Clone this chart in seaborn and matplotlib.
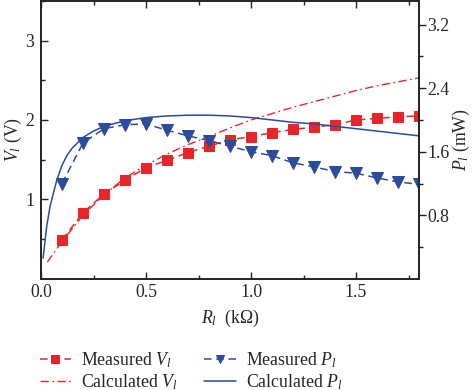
import numpy as np
import pandas as pd
import matplotlib
matplotlib.use("Agg")
import matplotlib.pyplot as plt
import seaborn as sns
from matplotlib.ticker import FixedLocator

# measured load resistance (kOhm)
r_meas = [0.1, 0.2, 0.3, 0.4, 0.5, 0.6, 0.7, 0.8, 0.9,
          1.0, 1.1, 1.2, 1.3, 1.4, 1.5, 1.6, 1.7, 1.8]
v_meas = [0.49, 0.83, 1.07, 1.24, 1.40, 1.49, 1.59, 1.67, 1.75,
          1.79, 1.84, 1.88, 1.91, 1.94, 2.00, 2.02, 2.04, 2.05]
p_meas = [1.20, 1.71, 1.89, 1.94, 1.95, 1.87, 1.80, 1.74, 1.67,
          1.60, 1.55, 1.46, 1.41, 1.35, 1.33, 1.27, 1.22, 1.19]

# calculated curves
r_calc_v = [0.03, 0.1, 0.2, 0.3, 0.4, 0.5, 0.6, 0.7, 0.8, 0.9,
            1.0, 1.1, 1.2, 1.3, 1.4, 1.5, 1.6, 1.7, 1.8]
v_calc = [0.21, 0.47, 0.80, 1.06, 1.27, 1.43, 1.57, 1.69, 1.79, 1.90,
          2.00, 2.08, 2.16, 2.23, 2.30, 2.37, 2.43, 2.48, 2.53]

r_calc_p = [0.01, 0.027, 0.043, 0.06, 0.075, 0.1, 0.125, 0.15, 0.2, 0.25, 0.3,
            0.4, 0.5, 0.6, 0.7, 0.8, 0.9, 1.0, 1.1, 1.2, 1.3, 1.4,
            1.5, 1.6, 1.7, 1.8]
p_calc = [0.26, 0.66, 0.91, 1.09, 1.24, 1.43, 1.56, 1.65, 1.78, 1.86, 1.92,
          1.99, 2.03, 2.05, 2.06, 2.06, 2.05, 2.03, 2.00, 1.97, 1.95, 1.92,
          1.89, 1.86, 1.83, 1.80]

red = "#e8262a"
blue = "#2b4c9c"

sns.set_style("ticks")
plt.rcParams["font.family"] = ["Liberation Serif", "DejaVu Serif"]
plt.rcParams["mathtext.fontset"] = "custom"
plt.rcParams["mathtext.rm"] = "Liberation Serif"
plt.rcParams["mathtext.it"] = "Liberation Serif:italic"
fs = 12.8

fig = plt.figure(figsize=(4.74, 3.90), dpi=100)
ax = fig.add_axes([0.0865, 0.285, 0.7975, 0.713])
ax2 = ax.twinx()

sns.lineplot(x=r_meas, y=v_meas, ax=ax, color=red, marker="s", markersize=7,
             markeredgecolor=red, linewidth=1.1, sort=False,
             label="Measured $V_l$")
ax.lines[-1].set_dashes([5, 3])
sns.lineplot(x=r_calc_v, y=v_calc, ax=ax, color=red, linewidth=1.0, sort=False,
             label="Calculated $V_l$")
ax.lines[-1].set_dashes([6, 2.5, 1.2, 2.5])

sns.lineplot(x=r_meas, y=p_meas, ax=ax2, color=blue, marker="v", markersize=8.5,
             markeredgecolor=blue, linewidth=1.1, sort=False,
             label="Measured $P_l$")
ax2.lines[-1].set_dashes([5, 3])
sns.lineplot(x=r_calc_p, y=p_calc, ax=ax2, color=blue, linewidth=1.1, sort=False,
             label="Calculated $P_l$")

h1, l1 = ax.get_legend_handles_labels()
h2, l2 = ax2.get_legend_handles_labels()
ax.get_legend().remove()
ax2.get_legend().remove()

ax.set_xlim(0, 1.8)
ax.set_ylim(0, 3.5)
ax2.set_ylim(0, 3.5)

ax.xaxis.set_major_locator(FixedLocator([0.0, 0.5, 1.0, 1.5]))
ax.xaxis.set_minor_locator(FixedLocator([0.25, 0.75, 1.25, 1.75]))
ax.yaxis.set_major_locator(FixedLocator([1, 2, 3]))
ax.yaxis.set_minor_locator(FixedLocator([0.5, 1.5, 2.5, 3.5]))
ax2.yaxis.set_major_locator(FixedLocator([0.8, 1.6, 2.4, 3.2]))
ax2.yaxis.set_minor_locator(FixedLocator([0.4, 1.2, 2.0, 2.8]))
ax.set_xticklabels(["0.0", "0.5", "1.0", "1.5"])
ax.set_yticklabels(["1", "2", "3"])
ax2.set_yticklabels(["0.8", "1.6", "2.4", "3.2"])

ax.tick_params(which="both", direction="in", top=True, right=False,
               labelsize=fs, color="#222222")
ax.tick_params(which="major", length=5, width=1)
ax.tick_params(which="minor", length=3, width=1)
ax.tick_params(axis="y", pad=5)
ax2.tick_params(which="both", direction="out", labelsize=fs, color="#222222", pad=1)
ax2.tick_params(which="major", length=5, width=1)
ax2.tick_params(which="minor", length=3, width=1)

for a in (ax, ax2):
    for s in a.spines.values():
        s.set_linewidth(1.2)
        s.set_color("#222222")

ax.set_xlabel("$R_l$  (k\u03a9)", fontsize=fs, labelpad=5)
ax.set_ylabel("$V_l$ (V)", fontsize=fs, labelpad=1)
ax2.set_ylabel("$P_l$ (mW)", fontsize=fs, labelpad=1)

fig.legend(h1 + h2, l1 + l2, loc="lower left", bbox_to_anchor=(0.05, -0.045),
           ncol=2, frameon=False, fontsize=fs, handlelength=1.75,
           columnspacing=1.5, labelspacing=0.12, handletextpad=0.6,
           markerscale=0.75)

fig.savefig("out.png", dpi=100)
